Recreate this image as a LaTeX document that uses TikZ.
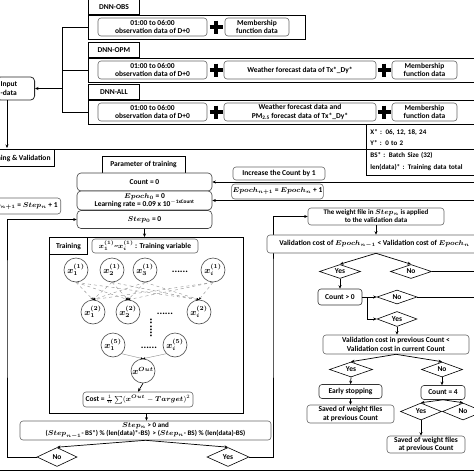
\documentclass[tikz,border=0pt]{standalone}
\usepackage{amsmath,amssymb}
\usepackage{bm}
\usepackage{fontspec}
\setmainfont{Carlito}
\usetikzlibrary{arrows.meta,positioning,shapes.geometric}

\newcommand{\stepv}[1]{\bm{Step}_{\bm{#1}}}
\newcommand{\epochv}[1]{\bm{Epoch}_{\bm{#1}}}

\begin{document}
\begin{tikzpicture}[
  x=1pt, y=-1pt,
  font=\fontsize{7.5}{8.5}\selectfont\bfseries,
  >={Stealth[length=3.5pt,width=3pt]},
  tab/.style={rectangle, draw, line width=1pt, fill=white, inner sep=2pt, minimum height=15pt},
  grp/.style={rectangle, draw, line width=1pt, anchor=north west, minimum height=24pt},
  data/.style={rectangle, draw=black!60, line width=0.6pt, rounded corners=3pt, fill=white, align=center, minimum height=18pt, inner sep=1pt},
  neuron/.style={circle, draw=black!70, line width=0.6pt, minimum size=24pt, inner sep=0pt, font=\fontsize{9}{9}\selectfont},
  decision/.style={diamond, draw, line width=0.6pt, fill=white, inner sep=0pt, aspect=3},
  flow/.style={->, line width=0.7pt},
  link/.style={-{Stealth[length=2.5pt,width=2.2pt,black]}, black!45, dashed, line width=0.4pt},
]
\useasboundingbox (0,0) rectangle (474,474);
\clip (0,0) rectangle (474,474);

% input groups
\node[tab, anchor=south west, minimum width=51pt] (tOBS) at (88,15) {DNN-OBS};
\node[grp, minimum width=217pt] (gOBS) at (88,15) {};
\node[data, minimum width=109pt] (obs1) at (152.5,27) {01:00 to 06:00\\observation data of D+0};
\node[data, minimum width=64pt] (mem1) at (257,27) {Membership\\function data};

\node[tab, anchor=south west, minimum width=51pt] (tOPM) at (88,58) {DNN-OPM};
\node[grp, minimum width=400pt] (gOPM) at (88,58) {};
\node[data, minimum width=109pt] (obs2) at (152.5,70) {01:00 to 06:00\\observation data of D+0};
\node[data, minimum width=152pt] (wf2) at (300,70) {Weather forecast data of Tx*\_Dy*};
\node[data, minimum width=65pt] (mem2) at (424.5,70) {Membership\\function data};

\node[tab, anchor=south west, minimum width=51pt] (tALL) at (88,100) {DNN-ALL};
\node[grp, minimum width=400pt] (gALL) at (88,100) {};
\node[data, minimum width=109pt] (obs3) at (152.5,112) {01:00 to 06:00\\observation data of D+0};
\node[data, minimum width=152pt] (wf3) at (300,112) {Weather forecast data and\\PM\textsubscript{2.5} forecast data of Tx*\_Dy*};
\node[data, minimum width=65pt] (mem3) at (424.5,112) {Membership\\function data};

\foreach \px/\py in {216/27, 216/70, 384/70, 216/112, 384/112} {
  \draw[line width=4.5pt] (\px-6.5,\py) -- (\px+6.5,\py) (\px,\py-6.5) -- (\px,\py+6.5);
}

% input data
\node[data, draw=black!85, line width=0.8pt, rounded corners=4pt, anchor=east, text width=30pt, align=left, inner xsep=4pt, minimum height=23pt] (input) at (35,88.5) {Input\\-data};
\coordinate (brk) at (62,88.5);
\draw[line width=0.9pt] (gOBS.west) -- (gOBS.west -| brk) -- (gALL.west -| brk) -- (gALL.west);
\draw[line width=0.9pt] (gOPM.west) -- (gOPM.west -| brk);
\draw[flow] (brk) -- (input.east);
\coordinate (tvtop) at (7,148);
\draw[flow] (input.south -| tvtop) -- (tvtop);

% notes
\node[rectangle, draw, line width=0.8pt, anchor=north west, minimum width=114pt, minimum height=51pt, align=left, text width=106pt, inner sep=3pt, font=\fontsize{7}{11.7}\selectfont\bfseries] (notes) at (366,124) {X* : 06, 12, 18, 24\\Y* : 0 to 2\\BS* : Batch Size (32)\\len(data)* : Training data total};

% training and validation frame
\draw[line width=1pt] (-5,149) rectangle (480,470);
\node[tab, anchor=north east, minimum height=17pt, inner xsep=4pt] (ttv) at (55,149) {Training \& Validation};

% parameters
\node[tab, minimum width=83pt, minimum height=17pt] (tpar) at (143.5,164.5) {Parameter of training};
\node[data, draw=black!75, rounded corners=4pt, minimum width=135pt, minimum height=18pt] (count) at (144.5,182) {Count = 0};
\node[data, draw=black!75, rounded corners=4pt, minimum width=135pt, minimum height=19pt] (epoch) at (144.5,200.5) {$\epochv{0}$ = 0\\Learning rate = 0.09 x 10\textsuperscript{$-$1xCount}};
\node[data, draw=black!75, rounded corners=4pt, minimum width=135pt, minimum height=18pt] (step0) at (144.5,219.5) {$\stepv{0}$ = 0};

\node[data, minimum width=92pt, minimum height=13pt] (inccount) at (279,173.5) {Increase the Count by 1};
\node[data, minimum width=89pt, minimum height=15pt] (incepoch) at (277.5,191.5) {$\epochv{n+1}$ = $\epochv{n}$ + 1};
\node[data, anchor=east, minimum height=16pt, inner xsep=3pt] (incstep) at (61,206) {$\stepv{n+1}$ = $\stepv{n}$ + 1};

% training network
\node[rectangle, draw, line width=1pt, anchor=north west, minimum width=194pt, minimum height=176pt] (trainbox) at (49,237) {};
\node[tab, anchor=north west, minimum width=38pt, minimum height=17pt] (ttrain) at (49,237) {Training};
\node[data, minimum width=106pt, minimum height=14pt] (tvar) at (145,246) {$\bm{x_1^{(1)}}$\textasciitilde$\bm{x_i^{(1)}}$ : Training variable};

\node[neuron] (a1) at (76,270) {$\bm{x_1^{(1)}}$};
\node[neuron] (a2) at (112,270) {$\bm{x_2^{(1)}}$};
\node[neuron] (a3) at (145,270) {$\bm{x_3^{(1)}}$};
\node[font=\fontsize{10}{10}\selectfont\bfseries] (adots) at (180,272) {......};
\node[neuron] (ai) at (213,270) {$\bm{x_i^{(1)}}$};

\node[neuron] (b1) at (93,312) {$\bm{x_1^{(2)}}$};
\node[neuron] (b2) at (128,312) {$\bm{x_2^{(2)}}$};
\node[font=\fontsize{10}{10}\selectfont\bfseries] (bdots) at (165,314) {......};
\node[neuron] (bi) at (199,312) {$\bm{x_i^{(2)}}$};

\node[rotate=90, font=\fontsize{12}{12}\selectfont\bfseries] (vdots) at (151,328) {......};

\node[neuron] (c1) at (113,345) {$\bm{x_1^{(5)}}$};
\node[font=\fontsize{10}{10}\selectfont\bfseries] (cdots) at (149,348) {......};
\node[neuron] (ci) at (175,345) {$\bm{x_i^{(5)}}$};
\node[neuron] (out) at (143,371) {$\bm{x^{Out}}$};

\foreach \a in {a1,a2,a3,ai} {
  \foreach \b in {b1,b2,bi} {
    \draw[link] (\a.south) -- (\b.north);
  }
}
\draw[link, solid] (c1.south east) -- (out.north);
\draw[link, solid] (ci.south west) -- (out.north);

\node[data, minimum width=110pt, minimum height=15pt] (cost) at (138,399.5) {Cost = $\tfrac{1}{n}\sum(\bm{x^{Out}} - \bm{Target})^2$};
\draw[flow] (out.south) -- (cost.north);
\draw[flow] (step0.south) -- (step0.south |- trainbox.north);

% step condition
\node[data, minimum width=251pt, minimum height=19pt, font=\fontsize{7}{8}\selectfont\bfseries] (cond) at (145.5,430.5) {$\stepv{n}$ > 0 and\\($\stepv{n-1}$- BS*) \% (len(data)*-BS)\, > ($\stepv{n}$- BS) \% (len(data)-BS)};
\draw[flow] (trainbox.south) -- (trainbox.south |- cond.north);
\node[decision, minimum width=40pt, minimum height=19pt] (nostep) at (57,457) {No};
\node[decision, minimum width=42pt, minimum height=19pt] (yesstep) at (228,457) {Yes};
\draw[flow] (cond.south) -- (nostep.north);
\draw[flow] (cond.south) -- (yesstep.north);

\coordinate (lrail) at (7,300);
\draw[flow] (nostep.west) -| (lrail) |- (step0.west);

% validation
\node[data, minimum width=136pt, minimum height=17pt, font=\fontsize{7}{8}\selectfont\bfseries] (weight) at (376,216.5) {The weight file in $\stepv{n}$ is applied\\to the validation data};
\coordinate (rrail) at (273,300);
\draw[flow] (yesstep.east) -| (rrail) |- (weight.west);
\node[data, minimum width=215pt, minimum height=18pt] (valep) at (374.5,244) {Validation cost of $\epochv{n-1}$ < Validation cost of $\epochv{n}$};
\draw[flow] (weight.south) -- (weight.south |- valep.north);
\node[decision, minimum width=41pt, minimum height=14pt] (yesA) at (340,271.5) {Yes};
\node[decision, minimum width=41pt, minimum height=14pt] (noA) at (411,271.5) {No};
\draw[flow] (weight.south |- valep.south) -- (yesA.north);
\draw[flow] (weight.south |- valep.south) -- (noA.north);
\coordinate (erail) at (484,230);
\draw[flow] (noA.east) -| (erail) |- (epoch.east);

\node[data, draw=black!80, minimum width=44pt, minimum height=16pt] (cntpos) at (340,297) {Count > 0};
\draw[flow] (yesA.south) -- (cntpos.north);
\node[decision, minimum width=40pt, minimum height=14pt] (noB) at (397,297) {No};
\node[decision, minimum width=40pt, minimum height=15pt] (yesB) at (397,319) {Yes};
\coordinate (jB) at (367,297);
\draw[line width=0.7pt] (cntpos.east) -- (jB);
\draw[flow] (jB) -- (noB.west);
\draw[flow] (jB) |- (yesB.west);
\coordinate (crail) at (478,240);
\draw[flow] (noB.east) -| (crail) |- (count.east);

\node[data, minimum width=146pt, minimum height=19pt] (valcnt) at (396,344.5) {Validation cost in previous Count <\\Validation cost in current Count};
\draw[flow] (yesB.south) -- (yesB.south |- valcnt.north);
\node[decision, minimum width=43pt, minimum height=15pt] (yesC) at (351,369.5) {Yes};
\node[decision, minimum width=41pt, minimum height=15pt] (noC) at (442,369.5) {No};
\draw[flow] (valcnt.south) -- (yesC.north);
\draw[flow] (valcnt.south) -- (noC.north);

\node[data, draw=black!80, minimum width=63pt, minimum height=14pt] (early) at (350.5,391.5) {Early stopping};
\draw[flow] (yesC.south) -- (early.north);
\node[data, minimum width=87pt, minimum height=18pt] (savedA) at (350.5,414) {Saved of weight files\\at previous Count};
\draw[flow] (early.south) -- (savedA.north);

\node[data, draw=black!80, minimum width=44pt, minimum height=14pt] (cnt4) at (443,392.5) {Count = 4};
\draw[flow] (noC.south) -- (noC.south |- cnt4.north);
\node[decision, minimum width=41pt, minimum height=17pt] (yesD) at (421,411.5) {Yes};
\node[decision, minimum width=41pt, minimum height=17pt] (noD) at (463,411.5) {No};
\draw[flow] (cnt4.south) -- (yesD.north);
\draw[flow] (cnt4.south) -- (noD.north);
\node[data, minimum width=78pt, minimum height=17pt] (savedB) at (426,444.5) {Saved of weight files\\at previous Count};
\draw[flow] (yesD.south) -- (yesD.south |- savedB.north);
\end{tikzpicture}
\end{document}
